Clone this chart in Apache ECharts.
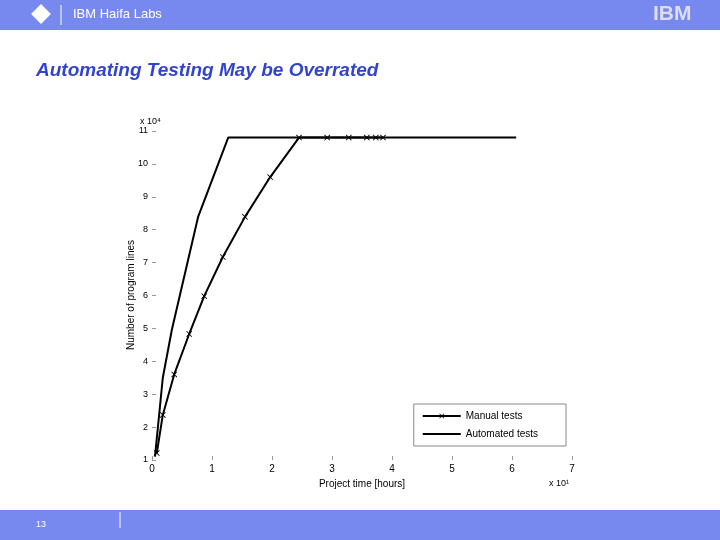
<!DOCTYPE html>
<html><head><meta charset="utf-8">
<script src="https://cdn.jsdelivr.net/npm/echarts@6/dist/echarts.min.js"></script>
<style>body{margin:0}#c{width:720px;height:540px}</style></head>
<body><div id="c"></div>
<script>
// x in units of 10^1 hours, y in units of 10^4 lines
var manualX = [0.08, 0.18, 0.37, 0.62, 0.87, 1.18, 1.55, 1.97, 2.45, 2.92, 3.28, 3.58, 3.73, 3.85];
var manualY = [1.21, 2.37, 3.6, 4.83, 5.98, 7.17, 8.39, 9.6, 10.8, 10.8, 10.8, 10.8, 10.8, 10.8];
var autoX = [0.05, 0.18, 0.33, 0.77, 1.27, 6.07];
var autoY = [1.1, 3.5, 4.95, 8.4, 10.8, 10.8];

var chart = echarts.init(document.getElementById('c'));
var blue = '#7788ee';
var cross = 'path://M0,1L1,0L5,4L9,0L10,1L6,5L10,9L9,10L5,6L1,10L0,9L4,5Z';
var bar = 'path://M0,0H40V2H0Z';
function pairs(xs, ys){ return xs.map(function(x,i){return [x, ys[i]];}); }
var font = 'Liberation Sans, Arial, sans-serif';
chart.setOption({
  animation:false,
  backgroundColor:'#fff',
  textStyle:{fontFamily:font},
  grid:{left:152, right:148, top:131, bottom:80},
  xAxis:{type:'value', min:0, max:7, interval:1,
    name:'Project time [hours]', nameLocation:'middle', nameGap:14,
    nameTextStyle:{fontSize:10, color:'#000'},
    axisLine:{show:false}, splitLine:{show:false},
    axisTick:{show:true, inside:true, length:4, lineStyle:{color:'#999'}},
    axisLabel:{fontSize:10, color:'#000', margin:4}},
  yAxis:{type:'value', min:1, max:11, interval:1,
    axisLine:{show:false}, splitLine:{show:false},
    axisTick:{show:true, inside:true, length:4, lineStyle:{color:'#999'}},
    axisLabel:{fontSize:9, color:'#000', margin:4}},
  legend:{orient:'vertical', right:154, top:404, itemGap:8, itemWidth:38, itemHeight:6,
    borderColor:'#888', borderWidth:1, padding:[7,28,7,8], backgroundColor:'#fff',
    textStyle:{fontSize:10, color:'#000'},
    data:['Manual tests', {name:'Automated tests', icon:bar}]},
  series:[
    {name:'Manual tests', type:'line', data:pairs(manualX, manualY), symbol:cross, symbolSize:6,
      itemStyle:{color:'#000'}, lineStyle:{color:'#000', width:2}, z:3},
    {name:'Automated tests', type:'line', data:pairs(autoX, autoY), symbol:'none',
      itemStyle:{color:'#000'}, lineStyle:{color:'#000', width:2}, z:2}
  ],
  graphic:[
    {type:'rect', shape:{x:0,y:0,width:720,height:30}, style:{fill:blue}},
    {type:'rect', shape:{x:0,y:510,width:720,height:30}, style:{fill:blue}},
    {type:'rect', shape:{x:34,y:7,width:14,height:14}, rotation:Math.PI/4, originX:41, originY:14, style:{fill:'#fff'}},
    {type:'line', shape:{x1:61,y1:5,x2:61,y2:25}, style:{stroke:'#fff', lineWidth:1}},
    {type:'text', left:73, top:8, style:{text:'IBM Haifa Labs', fill:'#fff', fontSize:13, fontFamily:font}},
    {type:'text', left:653, top:4, style:{text:'IBM', fill:'#dde', fontSize:21, fontWeight:'bold', fontFamily:font}},
    {type:'text', left:36, top:61, style:{text:'Automating Testing May be Overrated', fill:'#3344cc', fontSize:19, fontWeight:'bold', fontStyle:'italic', fontFamily:font}},
    {type:'text', x:131, y:295, rotation:Math.PI/2, style:{text:'Number of program lines', fill:'#000', fontSize:10, fontFamily:font, align:'center', verticalAlign:'middle'}},
    {type:'text', left:140, top:117, style:{text:'x 10\u2074', fill:'#000', fontSize:9, fontFamily:font}},
    {type:'text', left:549, top:479, style:{text:'x 10\u00b9', fill:'#000', fontSize:9, fontFamily:font}},
    {type:'text', left:36, top:520, style:{text:'13', fill:'#fff', fontSize:9, fontFamily:font}},
    {type:'line', shape:{x1:120,y1:512,x2:120,y2:528}, style:{stroke:'#fff', lineWidth:1}}
  ]
});
</script></body></html>
